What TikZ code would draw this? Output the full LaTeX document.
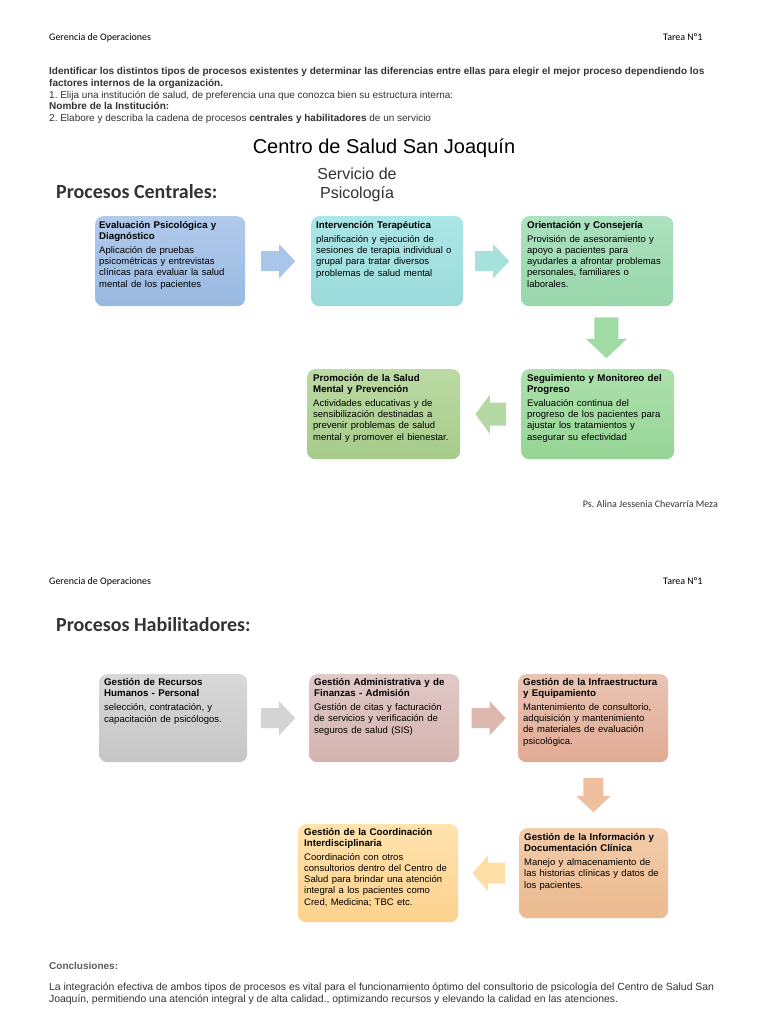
\documentclass[tikz,border=0pt]{standalone}
\usepackage{fontspec}
\setmainfont{Liberation Sans}
\newfontfamily\calibri{Carlito}
\usepackage{xcolor}
\usetikzlibrary{calc}
\frenchspacing

\definecolor{txtgray}{HTML}{333333}
% box colours
\definecolor{boxAt}{HTML}{B1CAEC}\definecolor{boxAb}{HTML}{99B9E1}
\definecolor{boxBt}{HTML}{ABE6E6}\definecolor{boxBb}{HTML}{9CDBDB}
\definecolor{boxCt}{HTML}{ACE2BF}\definecolor{boxCb}{HTML}{98D6AB}
\definecolor{boxDt}{HTML}{ACE0AC}\definecolor{boxDb}{HTML}{96D596}
\definecolor{boxEt}{HTML}{BCDAA4}\definecolor{boxEb}{HTML}{A6CB8A}
\definecolor{boxFt}{HTML}{D8D8D8}\definecolor{boxFb}{HTML}{C6C6C6}
\definecolor{boxGt}{HTML}{E0C9C7}\definecolor{boxGb}{HTML}{D4B3AF}
\definecolor{boxHt}{HTML}{EAC4B4}\definecolor{boxHb}{HTML}{E1AB94}
\definecolor{boxIt}{HTML}{F3CCAB}\definecolor{boxIb}{HTML}{ECBA8E}
\definecolor{boxJt}{HTML}{FFE2AD}\definecolor{boxJb}{HTML}{FDD28E}
% arrow colours
\definecolor{arrA}{HTML}{A9C5E9}
\definecolor{arrB}{HTML}{A7E1DB}
\definecolor{arrC}{HTML}{A0DAA4}
\definecolor{arrD}{HTML}{B4D9A5}
\definecolor{arrF}{HTML}{D4D4D4}
\definecolor{arrG}{HTML}{DCB7AD}
\definecolor{arrH}{HTML}{EFBF9F}
\definecolor{arrI}{HTML}{FDDFA6}

\newcommand{\boxhead}{\lineskiplimit=-20pt\relax\fontsize{9.7}{11}\selectfont\bfseries}
\newcommand{\boxbody}{\fontsize{9.5}{11}\selectfont\mdseries}

\tikzset{
  procbox/.style={anchor=north west, rounded corners=8pt, inner sep=0pt},
  boxtext/.style={anchor=north west, align=left, inner sep=0pt, text width=158pt, text=black},
  plain/.style={anchor=base west, inner sep=0pt, text=txtgray, font=\fontsize{10}{12}\selectfont},
  hdr/.style={anchor=base west, inner sep=0pt, font=\calibri\fontsize{10}{12}\selectfont},
  blockarrow/.pic={
    \path[pic actions] (-17,-10) -- (1,-10) -- (1,-17) -- (17,0) -- (1,17) -- (1,10) -- (-17,10) -- cycle;
  }
}

\begin{document}
\begin{tikzpicture}[x=1pt, y=-1pt]
  \fill[white] (0,0) rectangle (768,1024);
  \useasboundingbox (0,0) rectangle (768,1024);

  % Page 1 header
  \node[hdr] (head1) at (49,41) {Gerencia de Operaciones};
  \node[hdr] (task1) at (663,41) {Tarea N°1};

  % Task statement
  \node[plain, font=\bfseries\fontsize{10}{12}\selectfont] (ins1) at (49,75) {Identificar los distintos tipos de procesos existentes y determinar las diferencias entre ellas para elegir el mejor proceso dependiendo los};
  \node[plain, font=\bfseries\fontsize{10}{12}\selectfont] (ins2) at (49,87) {factores internos de la organización.};
  \node[plain] (ins3) at (49,99) {1. Elija una institución de salud, de preferencia una que conozca bien su estructura interna:};
  \node[plain, font=\bfseries\fontsize{10}{12}\selectfont] (ins4) at (49,110) {Nombre de la Institución:};
  \node[plain] (ins5) at (49,122) {2. Elabore y describa la cadena de procesos \textbf{centrales y habilitadores} de un servicio};

  % Titles
  \node[anchor=base, inner sep=0pt, font=\fontsize{20}{22}\selectfont] (title) at (384,154) {Centro de Salud San Joaquín};
  \node[anchor=base, inner sep=0pt, align=center, font=\fontsize{16}{19}\selectfont, text=txtgray] (service) at (357,199) {Servicio de\\Psicología};
  \node[anchor=base west, inner sep=0pt, font=\calibri\bfseries\fontsize{20}{22}\selectfont, text=txtgray] (central) at (56,199) {Procesos Centrales:};

  % Core process boxes
  \node[procbox, minimum width=150, minimum height=90, top color=boxAt, bottom color=boxAb] (cA) at (95,216) {};
  \node[procbox, minimum width=152, minimum height=90, top color=boxBt, bottom color=boxBb] (cB) at (311,216) {};
  \node[procbox, minimum width=152, minimum height=90, top color=boxCt, bottom color=boxCb] (cC) at (521,216) {};
  \node[procbox, minimum width=153, minimum height=90, top color=boxDt, bottom color=boxDb] (cD) at (521,369) {};
  \node[procbox, minimum width=153, minimum height=90, top color=boxEt, bottom color=boxEb] (cE) at (307,369) {};

  \node[boxtext] (tA) at ([xshift=4,yshift=-5]cA.north west) {\boxhead Evaluación Psicológica y\\Diagnóstico\\[3pt]\boxbody Aplicación de pruebas\\psicométricas y entrevistas\\clínicas para evaluar la salud\\mental de los pacientes};
  \node[boxtext] (tB) at ([xshift=5,yshift=-5]cB.north west) {\boxhead Intervención Terapéutica\\[3pt]\boxbody planificación y ejecución de\\sesiones de terapia individual o\\grupal para tratar diversos\\problemas de salud mental};
  \node[boxtext] (tC) at ([xshift=6,yshift=-5]cC.north west) {\boxhead Orientación y Consejería\\[3pt]\boxbody Provisión de asesoramiento y\\apoyo a pacientes para\\ayudarles a afrontar problemas\\personales, familiares o\\laborales.};
  \node[boxtext] (tD) at ([xshift=6,yshift=-5]cD.north west) {\boxhead Seguimiento y Monitoreo del\\Progreso\\[3pt]\boxbody Evaluación continua del\\progreso de los pacientes para\\ajustar los tratamientos y\\asegurar su efectividad};
  \node[boxtext] (tE) at ([xshift=6,yshift=-5]cE.north west) {\boxhead Promoción de la Salud\\Mental y Prevención\\[3pt]\boxbody Actividades educativas y de\\sensibilización destinadas a\\prevenir problemas de salud\\mental y promover el bienestar.};

  % Core process arrows
  \pic[fill=arrA] at ($(cA.east)!0.5!(cB.west)$) {blockarrow};
  \pic[fill=arrB] at ($(cB.east)!0.5!(cC.west)$) {blockarrow};
  \pic[fill=arrC, rotate=-90, scale=1.2] at ($(cC.south)!0.5!(cD.north)+(9,0)$) {blockarrow};
  \pic[fill=arrD, rotate=180, xscale=0.9, yscale=1.15] at ($(cD.west)!0.5!(cE.east)$) {blockarrow};

  \node[hdr, anchor=base east, text=txtgray] (author) at (718,507) {Ps. Alina Jessenia Chevarría Meza};

  % Page 2 header
  \node[hdr] (head2) at (49,584) {Gerencia de Operaciones};
  \node[hdr] (task2) at (663,584) {Tarea N°1};
  \node[anchor=base west, inner sep=0pt, font=\calibri\bfseries\fontsize{20}{22}\selectfont, text=txtgray] (enabling) at (56,631) {Procesos Habilitadores:};

  % Enabling process boxes
  \node[procbox, minimum width=148, minimum height=88, top color=boxFt, bottom color=boxFb] (hA) at (99,674) {};
  \node[procbox, minimum width=150, minimum height=88, top color=boxGt, bottom color=boxGb] (hB) at (309,674) {};
  \node[procbox, minimum width=150, minimum height=88, top color=boxHt, bottom color=boxHb] (hC) at (518,674) {};
  \node[procbox, minimum width=149, minimum height=90, top color=boxIt, bottom color=boxIb] (hD) at (519,828) {};
  \node[procbox, minimum width=160, minimum height=98, top color=boxJt, bottom color=boxJb] (hE) at (298,824) {};

  \node[boxtext] (uA) at ([xshift=5,yshift=-4]hA.north west) {\boxhead Gestión de Recursos\\Humanos - Personal\\[3pt]\boxbody selección, contratación, y\\capacitación de psicólogos.};
  \node[boxtext] (uB) at ([xshift=5,yshift=-4]hB.north west) {\boxhead Gestión Administrativa y de\\Finanzas - Admisión\\[3pt]\boxbody Gestión de citas y facturación\\de servicios y verificación de\\seguros de salud (SIS)};
  \node[boxtext] (uC) at ([xshift=5,yshift=-4]hC.north west) {\boxhead Gestión de la Infraestructura\\y Equipamiento\\[3pt]\boxbody Mantenimiento de consultorio,\\adquisición y mantenimiento\\de materiales de evaluación\\psicológica.};
  \node[boxtext] (uD) at ([xshift=5,yshift=-5]hD.north west) {\boxhead Gestión de la Información y\\Documentación Clínica\\[3pt]\boxbody Manejo y almacenamiento de\\las historias clínicas y datos de\\los pacientes.};
  \node[boxtext] (uE) at ([xshift=6,yshift=-4]hE.north west) {\boxhead Gestión de la Coordinación\\Interdisciplinaria\\[3pt]\boxbody Coordinación con otros\\consultorios dentro del Centro de\\Salud para brindar una atención\\integral a los pacientes como\\Cred, Medicina; TBC etc.};

  % Enabling process arrows
  \pic[fill=arrF] at ($(hA.east)!0.5!(hB.west)$) {blockarrow};
  \pic[fill=arrG] at ($(hB.east)!0.5!(hC.west)$) {blockarrow};
  \pic[fill=arrH, rotate=-90] at ($(hC.south)!0.5!(hD.north)$) {blockarrow};
  \pic[fill=arrI, rotate=180, xscale=0.95, yscale=1.05] at ($(hD.west)!0.5!(hE.east)$) {blockarrow};

  % Conclusions
  \node[plain, font=\bfseries\fontsize{10}{12}\selectfont, text=txtgray!80] (concl) at (49,969) {Conclusiones:};
  \node[plain, font=\fontsize{10.4}{12}\selectfont] (conc1) at (49,990) {La integración efectiva de ambos tipos de procesos es vital para el funcionamiento óptimo del consultorio de psicología del Centro de Salud San};
  \node[plain, font=\fontsize{10.4}{12}\selectfont] (conc2) at (49,1002) {Joaquín, permitiendo una atención integral y de alta calidad., optimizando recursos y elevando la calidad en las atenciones.};
\end{tikzpicture}
\end{document}
